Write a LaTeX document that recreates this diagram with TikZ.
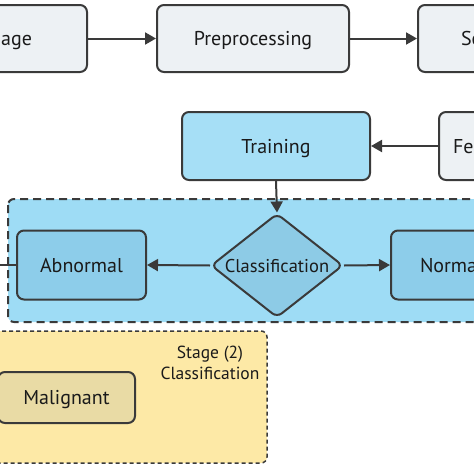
\documentclass[tikz,border=0pt]{standalone}
\usepackage{fontspec}
\setmainfont{PT Sans}
\usetikzlibrary{arrows.meta,shapes.geometric}
\definecolor{edgec}{HTML}{3A3A3A}
\definecolor{greyfill}{HTML}{EDF1F4}
\definecolor{trainfill}{HTML}{A6DFF6}
\definecolor{bluebg}{HTML}{9EDCF5}
\definecolor{boxblue}{HTML}{8DCDEA}
\definecolor{diafill}{HTML}{8DCBE6}
\definecolor{yellowbg}{HTML}{FDE9A6}
\definecolor{malfill}{HTML}{E9DBA5}
\definecolor{txt}{HTML}{1A1A1A}
\tikzset{
  basebox/.style={draw=edgec, line width=2pt, rounded corners=7pt, text=txt,
    font=\fontsize{20}{22}\selectfont, inner ysep=0pt, text height=14pt, text depth=0pt},
  greybox/.style={basebox, fill=greyfill},
  bluebox/.style={basebox, fill=boxblue},
  decision/.style={diamond, draw=edgec, line width=2pt, rounded corners=6pt, fill=diafill,
    text=txt, font=\fontsize{18.5}{22}\selectfont, inner sep=0pt, aspect=1.27,
    text height=13pt, text depth=0pt,
    minimum width=132pt, minimum height=104pt},
  arr/.style={draw=edgec, line width=2pt, -{Triangle[length=11pt,width=12pt]}},
  plain/.style={draw=edgec, line width=2pt},
}
\begin{document}
\begin{tikzpicture}[x=1pt,y=-1pt]
\useasboundingbox (0,0) rectangle (474,474);
\clip (0,0) rectangle (474,474);
% containers
\draw[fill=bluebg, draw=edgec, line width=2pt, dash pattern=on 8pt off 5pt, rounded corners=6pt]
  (8,199) rectangle (500,322);
\draw[fill=yellowbg, draw=edgec, line width=1.5pt, dash pattern=on 4pt off 3pt, rounded corners=6pt]
  (-20,331) rectangle (267,463);
% top row
\node[greybox, anchor=east, text width=60pt, align=right, inner xsep=55pt, minimum height=67pt] (img) at (88,38.5) {age};
\node[greybox, minimum width=192pt, minimum height=67pt] (pre) at (253,38.5) {Preprocessing};
\node[greybox, anchor=west, text width=70pt, align=left, inner xsep=43pt, minimum height=67pt] (seg) at (417,38.5) {Se};
% second row
\node[basebox, fill=trainfill, minimum width=188pt, minimum height=68pt] (train) at (276,146) {Training};
\node[greybox, anchor=west, text width=80pt, align=left, inner xsep=14pt, minimum height=68pt] (fea) at (438,146) {Fea};
% classification row
\node[decision] (cls) at (277,265.5) {Classification};
\node[bluebox, minimum width=129pt, minimum height=69pt] (abn) at (81.5,265) {Abnormal};
\node[bluebox, anchor=west, text width=80pt, align=left, inner xsep=29pt, minimum height=69pt] (nor) at (390,265) {Norma};
% stage 2
\node[basebox, fill=malfill, minimum width=137pt, minimum height=51pt] (mal) at (66.5,397.5) {Malignant};
\node[text=txt, font=\fontsize{17.5}{21}\selectfont, align=center] (stage2) at (210,363) {Stage (2)\\Classification};
\coordinate (offl) at (-20,265);
% connectors
\draw[arr] (img.east) -- (pre.west);
\draw[arr] (pre.east) -- (seg.west);
\draw[arr] (fea.west) -- (train.east);
\draw[arr] (train.south) -- (cls.north);
\draw[arr] (cls.west) -- (abn.east);
\draw[arr] (cls.east) -- (nor.west);
\draw[plain] (offl) -- (abn.west);
\end{tikzpicture}
\end{document}
